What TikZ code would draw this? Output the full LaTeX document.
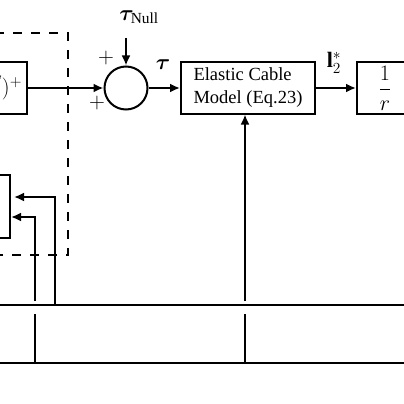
\RequirePackage{fix-cm}
\documentclass[tikz,border=0pt]{standalone}
\usepackage{amsmath,bm}
\usepackage{fontspec}
\setmainfont{Liberation Serif}
\usetikzlibrary{arrows.meta}
\begin{document}
\begin{tikzpicture}[x=1pt,y=-1pt,line width=2pt,
  txt/.style={font=\fontsize{18.5}{23}\selectfont},
  mth/.style={font=\fontsize{22}{26}\selectfont},
  blk/.style={draw,line width=2pt,inner sep=0pt,txt},
  arr/.style={-{Latex[length=10pt,width=9pt]}},
  dashbox/.style={line width=1.5pt,dash pattern=on 9pt off 9pt},
  lab/.style={mth,inner sep=0pt}]
\useasboundingbox (0,0) rectangle (404,404);
% blocks
\node[blk,mth,minimum width=80pt,text width=70pt,align=right,minimum height=51pt] (pinv) at (-13,88) {$(\mathbf{J}^{T})^{+}$};
\node[draw,circle,minimum size=43pt,inner sep=0pt] (sum) at (126,88) {};
\node[blk,minimum width=134pt,minimum height=51pt,align=left] (ecm) at (248,88) {Elastic Cable\\Model (Eq.23)};
\node[blk,mth,minimum width=56pt,minimum height=51pt] (invr) at (385,88) {$\dfrac{1}{r}$};
\node[blk,minimum width=60pt,minimum height=63pt] (low) at (-20,206.5) {};
% labels
\node[lab] (tnull) at (139,17) {$\bm{\tau}_{\mathrm{Null}}$};
\node[lab] (tau) at (163,65) {$\bm{\tau}$};
\node[lab] (l2) at (334,63) {$\mathbf{l}_2^{*}$};
\node[lab] (p1) at (106,58) {$+$};
\node[lab] (p2) at (97,103) {$+$};
% coordinates
\coordinate (tn) at (126,38);
\coordinate (hA0) at (-5,305);
\coordinate (hA1) at (410,305);
\coordinate (hB0) at (-5,363);
\coordinate (hB1) at (410,363);
\coordinate (v1b) at (245,363);
\coordinate (v1g1) at (245,314);
\coordinate (v1g2) at (245,301);
\coordinate (v2b) at (35,363);
\coordinate (v2g1) at (35,314);
\coordinate (v2g2) at (35,301);
\coordinate (v2t) at (35,217);
\coordinate (v3b) at (55,305);
\coordinate (v3t) at (55,197);
\coordinate (u3) at (14,197);
% connectors
\draw[arr] (pinv.east) -- (sum.west);
\draw[arr] (tn) -- (sum.north);
\draw[arr] (sum.east) -- (ecm.west);
\draw[arr] (ecm.east) -- (invr.west);
\draw (v1b) -- (v1g1);
\draw[arr] (v1g2) -- (v1g2 |- ecm.south);
\draw (v2b) -- (v2g1);
\draw[arr] (v2g2) -- (v2t) -- (low.east |- v2t);
\draw[arr] (v3b) -- (v3t) -- (u3);
\draw (hA0) -- (hA1);
\draw (hB0) -- (hB1);
% dashed frame
\draw[dashbox] (-5,33) -- (68,33) -- (68,255) -- (-5,255);
\end{tikzpicture}
\end{document}
